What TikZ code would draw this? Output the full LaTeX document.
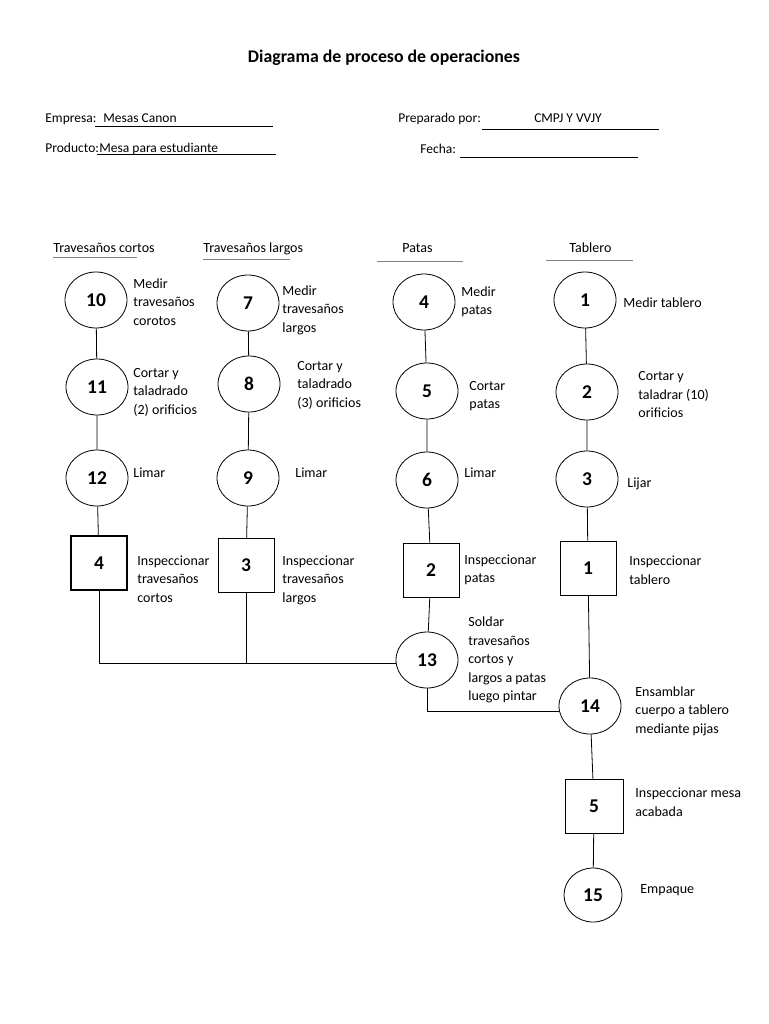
\documentclass[tikz,border=0pt]{standalone}
\usepackage{fontspec}
\setmainfont{Carlito}
\usetikzlibrary{shapes.geometric}

\begin{document}
\begin{tikzpicture}[x=1pt,y=-1pt,line width=0.8pt,
    op/.style={draw,ellipse,minimum width=62pt,minimum height=56pt,inner sep=0pt,font=\fontsize{19.5}{19.5}\selectfont\bfseries},
    insp/.style={draw,rectangle,minimum width=56pt,minimum height=54pt,inner sep=0pt,font=\fontsize{19.5}{19.5}\selectfont\bfseries},
    lbl/.style={anchor=west,align=left,inner sep=0pt,font=\fontsize{14}{18.5}\selectfont},
    hdr/.style={anchor=base west,inner sep=0pt,font=\fontsize{13.5}{16}\selectfont},
    colhead/.style={anchor=base west,inner sep=0pt,font=\fontsize{14}{16}\selectfont}]
        % Page
        \fill[white] (0,0) rectangle (768,1024);
        \useasboundingbox (0,0) rectangle (768,1024);

        % Title
        \node[font=\fontsize{17.8}{20}\selectfont\bfseries] (title) at (384,58) {Diagrama de proceso de operaciones};

        % Header
        \node[hdr] (empresa) at (45,122.5) {Empresa:};
        \node[hdr] (empresav) at (103,122.5) {Mesas Canon};
        \draw (95,126) -- (273,126);
        \node[hdr] (producto) at (45,152.5) {Producto:};
        \node[hdr] (productov) at (99,152.5) {Mesa para estudiante};
        \draw (97,154) -- (276,154);
        \node[hdr] (prep) at (398,122.5) {Preparado por:};
        \node[hdr,anchor=base] (prepv) at (568,122.5) {CMPJ Y VVJY};
        \draw (482,129) -- (659,129);
        \node[hdr] (fecha) at (420,153.5) {Fecha:};
        \draw (460,157) -- (638,157);

        % Column heads
        \node[colhead] (hcortos) at (53,252.5) {Travesaños cortos};
        \draw[gray] (53,257) -- (137,257);
        \node[colhead] (hlargos) at (203,252.5) {Travesaños largos};
        \draw[gray] (203,259) -- (290,259);
        \node[colhead] (hpatas) at (402,252.5) {Patas};
        \draw[gray] (377,261) -- (463,261);
        \node[colhead] (htablero) at (569,252.5) {Tablero};
        \draw[gray] (546,260) -- (633,260);

        % Travesanos cortos
        \node[op] (c10) at (96,300) {10};
        \node[op] (c11) at (97,387) {11};
        \node[op] (c12) at (97,478) {12};
        \node[insp,line width=1.4pt] (s4) at (99,563) {4};
        \node[lbl] (l10) at (133,302) {Medir\\travesaños\\corotos};
        \node[lbl] (l11) at (133,392) {Cortar y\\taladrado\\(2) orificios};
        \node[lbl] (l12) at (133,473) {Limar};
        \node[lbl] (ls4) at (137,579) {Inspeccionar\\travesaños\\cortos};

        % Travesanos largos
        \node[op] (c7) at (248,303) {7};
        \node[op] (c8) at (249,384) {8};
        \node[op] (c9) at (248,478) {9};
        \node[insp] (s3) at (246,565) {3};
        \node[lbl] (l7) at (282,310) {Medir\\travesaños\\largos};
        \node[lbl] (l8) at (297,385) {Cortar y\\taladrado\\(3) orificios};
        \node[lbl] (l9) at (295,473) {Limar};
        \node[lbl] (ls3) at (282,580) {Inspeccionar\\travesaños\\largos};

        % Patas
        \node[op] (c4) at (424,302) {4};
        \node[op] (c5) at (427,391) {5};
        \node[op] (c6) at (427,480) {6};
        \node[insp] (s2) at (431,570) {2};
        \node[lbl] (l4) at (461,302) {Medir\\patas};
        \node[lbl] (l5) at (469,396) {Cortar\\patas};
        \node[lbl] (l6) at (464,473) {Limar};
        \node[lbl] (ls2) at (464,570) {Inspeccionar\\patas};

        % Tablero
        \node[op] (c1) at (585,300) {1};
        \node[op] (c2) at (587,392) {2};
        \node[op] (c3) at (587,479) {3};
        \node[insp] (s1) at (588,568) {1};
        \node[lbl] (l1) at (623,303) {Medir tablero};
        \node[lbl] (l2) at (638,395) {Cortar y\\taladrar (10)\\orificios};
        \node[lbl] (l3) at (627,484) {Lijar};
        \node[lbl] (ls1) at (629,570) {Inspeccionar\\tablero};

        % Assembly
        \node[op] (c13) at (427,660) {13};
        \node[op] (c14) at (590,706) {14};
        \node[insp,minimum width=58pt] (s5) at (594,806) {5};
        \node[op,minimum width=58pt,minimum height=54pt] (c15) at (593,895) {15};
        \node[lbl] (l13) at (468,660) {Soldar\\travesaños\\cortos y\\largos a patas\\luego pintar};
        \node[lbl] (l14) at (635,711) {Ensamblar\\cuerpo a tablero\\mediante pijas};
        \node[lbl] (ls5) at (635,802) {Inspeccionar mesa\\acabada};
        \node[lbl] (l15) at (640,890) {Empaque};

        % Joints
        \coordinate (m13) at ([yshift=-3pt]c13.west);
        \coordinate (m14) at ([yshift=-5pt]c14.west);

        % Lines
        \draw (c10) -- (c11) -- (c12) -- (s4);
        \draw (c7) -- (c8) -- (c9) -- (s3);
        \draw (c4) -- (c5) -- (c6) -- (s2);
        \draw (c1) -- (c2) -- (c3) -- (s1);
        \draw (s4.south) |- (m13);
        \draw (s3.south) -- (s3.south |- m13);
        \draw (s2) -- (c13);
        \draw (s1) -- (c14);
        \draw (c13.south) |- (m14);
        \draw (c14) -- (s5) -- (c15);
\end{tikzpicture}
\end{document}
